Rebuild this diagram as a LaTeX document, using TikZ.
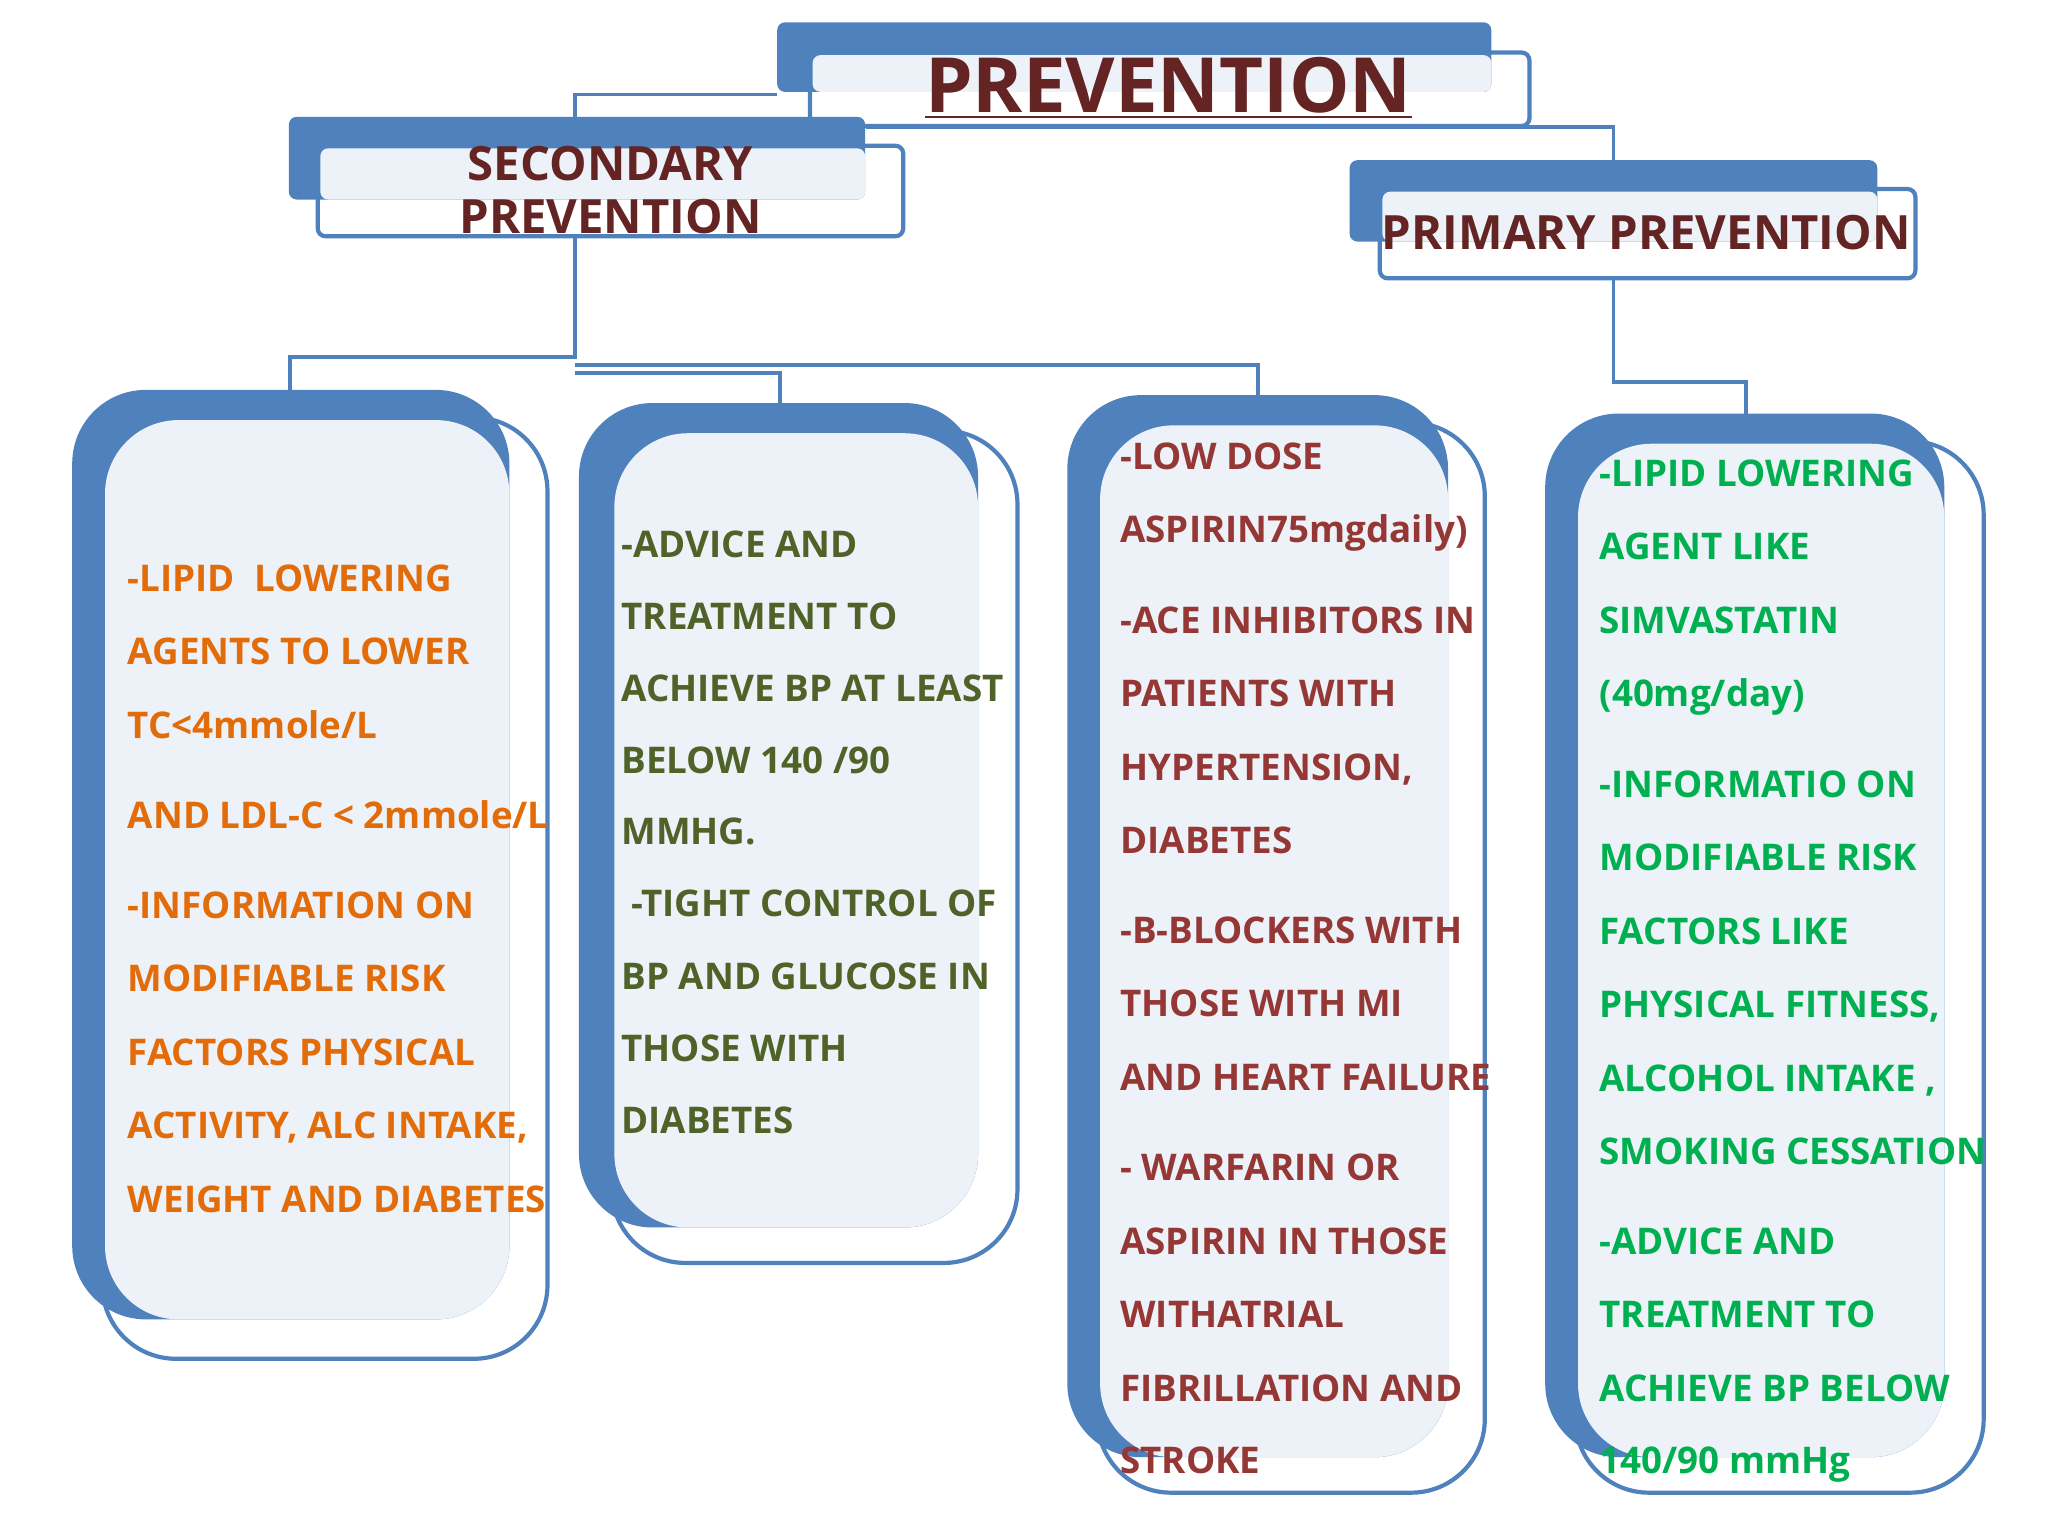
\documentclass[tikz,border=0pt]{standalone}
\usepackage{fontspec}
\setmainfont{Open Sans}
\definecolor{bb}{HTML}{4F81BD}
\definecolor{pan}{HTML}{EDF2F9}
\definecolor{hd}{HTML}{632423}
\definecolor{org}{HTML}{E36C0A}
\definecolor{olv}{HTML}{4F6228}
\definecolor{drd}{HTML}{953735}
\definecolor{grn}{HTML}{00B050}
\begin{document}
\begin{tikzpicture}[x=0.5pt,y=-0.5pt,
  outl/.style={draw=bb,line width=1.6pt,fill=white},
  blu/.style={fill=bb},
  pnl/.style={fill=pan},
  conn/.style={draw=bb,line width=1.4pt},
  tx/.style={anchor=mid west,inner sep=0pt,font=\bfseries\fontsize{14}{16}\selectfont},
  hdr/.style={font=\bfseries\fontsize{18}{22}\selectfont,text=hd,align=center,inner sep=0pt}]
\useasboundingbox (0,0) rectangle (1560,1170);
% connectors
\coordinate (s1) at (438,180);
\draw[conn] (592,72) -- (438,72) -- (438,89);
\draw[conn] (660,97) -- (1229,97) -- (1229,122);
\draw[conn] (s1) -- (438,272) -- (221,272) -- (221,297);
\draw[conn] (438,278) -- (958,278) -- (958,301);
\draw[conn] (438,284) -- (594,284) -- (594,307);
\draw[conn] (1229,212) -- (1229,291) -- (1330,291) -- (1330,315);
% boxes
\newcommand{\bx}[9]{%
  \draw[outl,rounded corners=#9] (#5,#6) rectangle (#7,#8);
  \fill[blu,rounded corners=#9] (#1,#2) rectangle (#3,#4);
  \fill[pnl,rounded corners=#9] (#5+2,#6+2) rectangle (#3,#4);}
\bx{592}{17}{1136}{70}{617}{40}{1165}{96}{3}
\bx{220}{89}{659}{152}{242}{111}{688}{180}{3}
\bx{1028}{122}{1430}{184}{1051}{144}{1459}{212}{3}
\bx{55}{297}{388}{1005}{78}{318}{417}{1035}{28}
\bx{441}{307}{745}{935}{466}{328}{775}{962}{28}
\bx{813}{301}{1103}{1110}{836}{322}{1131}{1137}{28}
\bx{1177}{315}{1481}{1110}{1200}{336}{1511}{1137}{28}
% headers
\node[hdr,font=\bfseries\fontsize{29}{34}\selectfont] (p) at (890,67) {\underline{PREVENTION}};
\node[hdr] (s) at (465,145) {SECONDARY\\[-2pt]PREVENTION};
\node[hdr] (pp) at (1254,177) {PRIMARY PREVENTION};
% box1
\foreach \t/\y [count=\i] in {{-LIPID\ \ LOWERING}/445,{AGENTS TO LOWER}/501,{TC<4mmole/L}/557,{AND LDL-C < 2mmole/L}/626,{-INFORMATION ON}/694,{MODIFIABLE RISK}/750,{FACTORS PHYSICAL}/806,{ACTIVITY, ALC INTAKE,}/862,{WEIGHT AND DIABETES}/918}
  \node[tx,text=org] (a\i) at (97,\y) {\t};
\foreach \t/\y [count=\i] in {{-ADVICE AND}/419,{TREATMENT TO}/474,{ACHIEVE BP AT LEAST}/529,{BELOW 140 /90}/584,{MMHG.}/638,{\ -TIGHT CONTROL OF}/693,{BP AND GLUCOSE IN}/748,{THOSE WITH}/803,{DIABETES}/858}
  \node[tx,text=olv] (b\i) at (473,\y) {\t};
\foreach \t/\y [count=\i] in {{-LOW DOSE}/352,{ASPIRIN75mgdaily)}/408,{-ACE INHIBITORS IN}/477,{PATIENTS WITH}/533,{HYPERTENSION,}/589,{DIABETES}/645,{-B-BLOCKERS WITH}/713,{THOSE WITH MI}/769,{AND HEART FAILURE}/825,{- WARFARIN OR}/894,{ASPIRIN IN THOSE}/950,{WITHATRIAL}/1006,{FIBRILLATION AND}/1062,{STROKE}/1117}
  \node[tx,text=drd] (c\i) at (853,\y) {\t};
\foreach \t/\y [count=\i] in {{-LIPID LOWERING}/365,{AGENT LIKE}/421,{SIMVASTATIN}/477,{(40mg/day)}/533,{-INFORMATIO ON}/602,{MODIFIABLE RISK}/658,{FACTORS LIKE}/714,{PHYSICAL FITNESS,}/770,{ALCOHOL INTAKE ,}/826,{SMOKING CESSATION}/882,{-ADVICE AND}/950,{TREATMENT TO}/1006,{ACHIEVE BP BELOW}/1062,{140/90 mmHg}/1117}
  \node[tx,text=grn] (d\i) at (1218,\y) {\t};
\end{tikzpicture}
\end{document}
